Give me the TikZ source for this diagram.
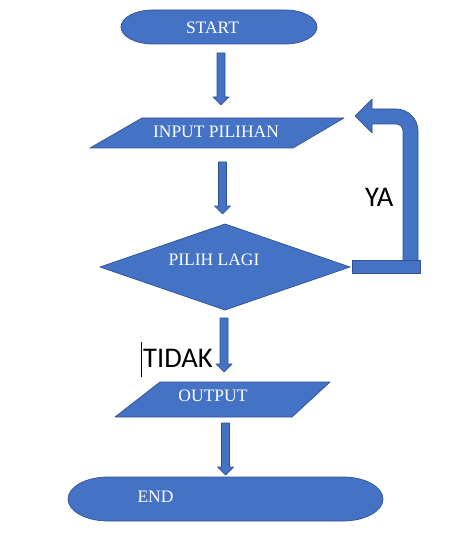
\documentclass[tikz,border=0pt]{standalone}
\usepackage{fontspec}
\setmainfont{Liberation Serif}
\newfontfamily\calibfont{Carlito}
\usetikzlibrary{calc}
\definecolor{fillblue}{HTML}{4472C4}
\definecolor{edgeblue}{HTML}{2F528F}
\tikzset{
  shapesty/.style={fill=fillblue, draw=edgeblue, line width=0.7pt, line join=round},
  lbl/.style={text=white, font=\fontsize{17.5}{20}\selectfont, inner sep=0pt},
  side/.style={text=black, font=\calibfont\fontsize{28.5}{31}\selectfont, inner sep=0pt}
}
\newcommand\blockarr[2]{%
  \path[shapesty] let \p1=(#1), \p2=(#2) in
    (\x1-4pt,\y1) -- (\x1+4pt,\y1) -- (\x1+4pt,\y2+8pt) -- (\x1+8pt,\y2+8pt)
    -- (\x2,\y2) -- (\x1-8pt,\y2+8pt) -- (\x1-4pt,\y2+8pt) -- cycle;}
\begin{document}
\begin{tikzpicture}[x=1pt,y=-1pt]
\useasboundingbox (0,0) rectangle (475,537);
% START
\path[shapesty] (153,10) -- (285,10) arc[start angle=90,end angle=-90,x radius=32pt,y radius=17pt]
  -- (153,44) arc[start angle=270,end angle=90,x radius=32pt,y radius=17pt] -- cycle;
\node[lbl] (start) at (212.5,28) {START};
% INPUT
\path[shapesty] (142,118) -- (344,118) -- (293,148) -- (90,148) -- cycle;
\node[lbl] (input) at (216,132) {INPUT PILIHAN};
% DECISION
\path[shapesty] (100,267) -- (225,224) -- (350,267) -- (225,310) -- cycle;
\node[lbl] (pilih) at (214,260) {PILIH LAGI};
% OUTPUT
\path[shapesty] (160,382) -- (330,382) -- (292,417) -- (115,417) -- cycle;
\node[lbl] (output) at (213,395.5) {OUTPUT};
% END
\path[shapesty] (108,477) -- (343,477) arc[start angle=90,end angle=-90,x radius=40pt,y radius=22pt]
  -- (108,521) arc[start angle=270,end angle=90,x radius=40pt,y radius=22pt] -- cycle;
\node[lbl] (end) at (155.5,497) {END};
% arrow coordinates
\coordinate (a1s) at (221,53);  \coordinate (a1e) at (221,105);
\coordinate (a2s) at (222.5,162); \coordinate (a2e) at (222.5,214);
\coordinate (a3s) at (224,318); \coordinate (a3e) at (224,372);
\coordinate (a4s) at (225.5,423); \coordinate (a4e) at (225.5,475);
\blockarr{a1s}{a1e}
\blockarr{a2s}{a2e}
\blockarr{a3s}{a3e}
\blockarr{a4s}{a4e}
% loop back arrow
\path[shapesty] (418,262) -- (418,131) arc[start angle=0,end angle=90,radius=22pt]
  -- (372,109) -- (372,99) -- (355,116) -- (372,133) -- (372,124) -- (396,124)
  arc[start angle=90,end angle=0,radius=7pt] -- (403,262) -- cycle;
\path[shapesty] (352,260) rectangle (420,273);
% labels
\node[side, anchor=base west] (ya) at (365,207) {YA};
\node[side, anchor=base west] (tidak) at (143,367) {TIDAK};
\draw[line width=0.8pt] (141,342) -- (141,377);
\end{tikzpicture}
\end{document}
